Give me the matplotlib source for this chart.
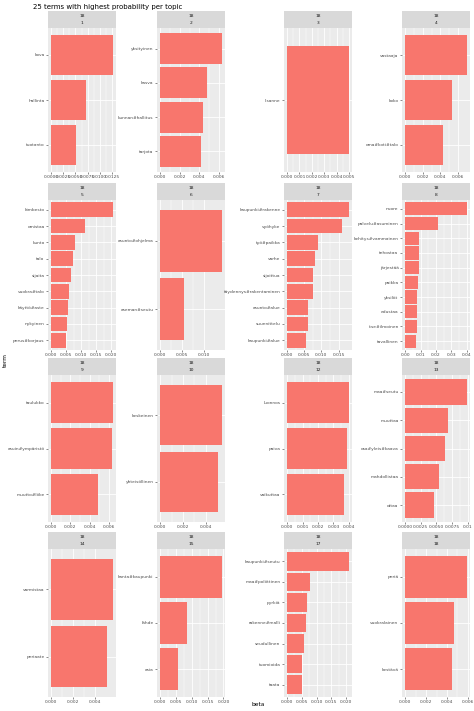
import matplotlib.pyplot as plt
import numpy as np

topics = ["1", "2", "3", "4", "5", "6", "7", "8", "9", "10", "12", "13", "14", "15", "17", "18"]
k_labels = ["18"] * 16

terms = [
    ["kova", "hallinta", "tuotanto"],
    ["yksityinen", "kasva", "kunnan#hallitus", "tarjota"],
    ["lisanne"],
    ["vastaaja", "koko", "oma#koti#talo"],
    ["kimbesto", "omistaa", "kunto", "talo", "sijaita", "vuokra#talo", "käyttö#aste", "nykyinen", "perus#korjaus"],
    ["asunto#ohjelma", "aseman#seutu"],
    ["kaupunki#rakenne", "vyöhyke", "työ#paikka", "varhe", "sijoittua", "täydennys#rakentaminen",
     "asunto#alue", "suunnittelu", "kaupunki#alue"],
    ["nuore", "palvelu#asuminen", "kehitys#vammainen", "tehostaa", "järjestää", "paikka", "yksilöt",
     "edustaa", "itse#ilmoinen", "tavallinen"],
    ["taulukko", "asuin#ympäristö", "muutto#liike"],
    ["keskeinen", "yhteisöllinen"],
    ["luonnos", "paiva", "vaikuttaa"],
    ["maa#seutu", "muuttaa", "osa#yleis#kaava", "mahdollistaa", "ottaa"],
    ["varmistaa", "periaate"],
    ["kanta#kaupunki", "lähde", "asia"],
    ["kaupunki#seutu", "maa#poliittinen", "pyrkiä", "rakenne#malli", "seudullinen", "tuomioida", "taata"],
    ["periä", "vuokralainen", "kestävä"],
]
betas = [
    [0.0127, 0.0071, 0.0052],
    [0.0063, 0.0048, 0.0044, 0.0042],
    [0.0050],
    [0.0070, 0.0053, 0.0043],
    [0.0205, 0.0111, 0.0080, 0.0074, 0.0065, 0.0058, 0.0055, 0.0053, 0.0051],
    [0.0140, 0.0055],
    [0.0180, 0.0160, 0.0090, 0.0082, 0.0076, 0.0074, 0.0062, 0.0062, 0.0055],
    [0.040, 0.021, 0.0092, 0.0088, 0.0087, 0.0082, 0.0078, 0.0077, 0.0076, 0.0073],
    [0.0064, 0.0063, 0.0049],
    [0.0054, 0.0051],
    [0.0040, 0.0039, 0.0037],
    [0.0099, 0.0069, 0.0064, 0.0055, 0.0047],
    [0.0056, 0.0051],
    [0.0195, 0.0085, 0.0058],
    [0.0210, 0.0079, 0.0066, 0.0065, 0.0057, 0.0052, 0.0051],
    [0.0059, 0.0047, 0.0045],
]
ticks = [
    [0, 0.0025, 0.005, 0.0075, 0.01, 0.0125],
    [0, 0.002, 0.004, 0.006],
    [0, 0.001, 0.002, 0.003, 0.004, 0.005],
    [0, 0.002, 0.004, 0.006],
    [0, 0.005, 0.01, 0.015, 0.02],
    [0, 0.005, 0.01],
    [0, 0.005, 0.01, 0.015],
    [0, 0.01, 0.02, 0.03, 0.04],
    [0, 0.002, 0.004, 0.006],
    [0, 0.002, 0.004],
    [0, 0.001, 0.002, 0.003, 0.004],
    [0, 0.0025, 0.005, 0.0075, 0.01],
    [0, 0.002, 0.004],
    [0, 0.005, 0.01, 0.015, 0.02],
    [0, 0.005, 0.01, 0.015, 0.02],
    [0, 0.002, 0.004, 0.006],
]
tick_fmt = ["%.4f", "%.3f", "%.3f", "%.3f", "%.3f", "%.3f", "%.3f", "%.2f",
            "%.3f", "%.3f", "%.3f", "%.4f", "%.3f", "%.3f", "%.3f", "%.3f"]

W, H = 474, 711
fig = plt.figure(figsize=(W / 100, H / 100), dpi=100)

col_x = [48, 157, 284, 402]
panel_w = 68
rows = [(11, 172), (183, 350), (358, 522), (532, 697)]
strip_h = 17
bg = "#EBEBEB"
fs = 3.2

for i in range(16):
    r, c = divmod(i, 4)
    top, bottom = rows[r]
    x0 = col_x[c]
    ax = fig.add_axes([x0 / W, 1 - bottom / H, panel_w / W, (bottom - top - strip_h) / H])
    ax.set_facecolor(bg)
    vals = betas[i]
    n = len(vals)
    y = np.arange(n)[::-1]
    ax.barh(y, vals, height=0.9, color="#F8766D", zorder=3)
    xmax = max(vals)
    ax.set_xlim(-0.05 * xmax, xmax * 1.05)
    ax.set_ylim(-0.6, n - 0.4)
    ax.set_yticks(y)
    ax.set_yticklabels(terms[i])
    ax.set_xticks(ticks[i])
    labels = [tick_fmt[i] % t for t in ticks[i]]
    if i == 11:
        labels[-1] = "0.01"
    ax.set_xticklabels(labels)
    minor = [(a + b) / 2 for a, b in zip(ticks[i][:-1], ticks[i][1:])]
    ax.set_xticks(minor, minor=True)
    ax.grid(True, which="major", color="white", linewidth=0.6, zorder=0)
    ax.grid(True, which="minor", axis="x", color="white", linewidth=0.3, zorder=0)
    ax.tick_params(labelsize=fs, length=1.5, width=0.4, color="#333333",
                   labelcolor="#4D4D4D", pad=1)
    ax.tick_params(which="minor", length=0)
    for s in ax.spines.values():
        s.set_visible(False)
    # strip
    sax = fig.add_axes([x0 / W, 1 - (top + strip_h) / H, panel_w / W, strip_h / H])
    sax.set_facecolor("#D9D9D9")
    sax.set_xticks([])
    sax.set_yticks([])
    for s in sax.spines.values():
        s.set_visible(False)
    sax.text(0.5, 0.72, k_labels[i], ha="center", va="center", fontsize=fs, color="#1A1A1A")
    sax.text(0.5, 0.28, topics[i], ha="center", va="center", fontsize=fs, color="#1A1A1A")

fig.text(33 / W, 1 - 7 / H, "25 terms with highest probability per topic", fontsize=5,
         ha="left", va="center")
fig.text(258 / W, 1 - 705 / H, "beta", fontsize=4.2, ha="center", va="center")
fig.text(5 / W, 1 - 360 / H, "term", fontsize=4.2, ha="center", va="center", rotation=90)

fig.savefig("out.png", dpi=100)
